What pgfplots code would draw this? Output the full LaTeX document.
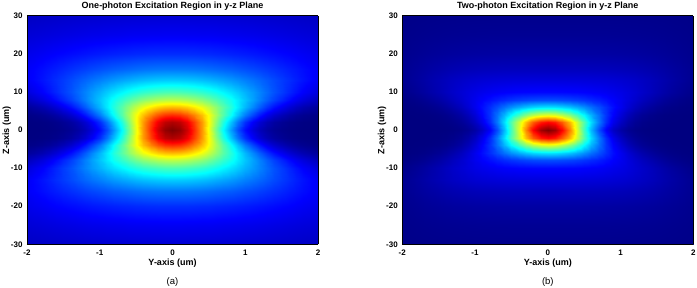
\documentclass[border=0pt]{standalone}
\usepackage{fontspec}
\setmainfont{Liberation Sans}
\usepackage{pgfplots}
\pgfplotsset{compat=1.18}
\newcommand\tickfont{\bfseries\fontsize{8bp}{9bp}\selectfont}
\newcommand\labfont{\bfseries\fontsize{9bp}{10bp}\selectfont}
\pgfplotsset{hm/.style={
  scale only axis, width=291bp, height=228.6bp,
  view={0}{90}, xmin=-2, xmax=2, ymin=-30, ymax=30, zmin=0, zmax=1,
  enlargelimits=false, axis on top,
  colormap/jet, point meta min=0, point meta max=1,
  xtick={-2,-1,0,1,2}, xticklabels={-2,-1,0,1,2},
  ytick={-30,-20,-10,0,10,20,30}, yticklabels={-30,-20,-10,0,10,20,30},
  ztick=\empty,
  major tick length=0pt,
  tick label style={font=\tickfont, inner sep=0pt},
  xticklabel style={anchor=base, yshift=-10.7bp},
  yticklabel style={anchor=east, xshift=-4.3bp},
  xlabel={Y-axis (um)}, ylabel={Z-axis (um)},
  label style={font=\labfont, inner sep=0pt},
  xlabel style={at={(axis description cs:0.5,-0.0906)}, anchor=base},
  ylabel style={at={(axis description cs:-0.0698,0.5)}, anchor=center},
  axis line style={black, line width=0.5pt},
}}
\begin{document}
\begin{tikzpicture}
\useasboundingbox (0,0) rectangle (697bp,-288bp);
\begin{axis}[hm, at={(27bp,-244.3bp)}, anchor=south west]
\addplot3[surf, shader=interp, mesh/rows=21, mesh/cols=41] coordinates {
(-2,-30,0.0665)(-1.9,-30,0.0679)(-1.8,-30,0.0693)(-1.7,-30,0.0706)(-1.6,-30,0.0719)(-1.5,-30,0.0731)(-1.4,-30,0.0743)(-1.3,-30,0.0754)(-1.2,-30,0.0764)(-1.1,-30,0.0774)(-1,-30,0.0782)(-0.9,-30,0.0791)(-0.8,-30,0.0798)(-0.7,-30,0.0804)(-0.6,-30,0.081)(-0.5,-30,0.0815)(-0.4,-30,0.0819)(-0.3,-30,0.0822)(-0.2,-30,0.0824)(-0.1,-30,0.0826)(0,-30,0.0826)(0.1,-30,0.0826)(0.2,-30,0.0824)(0.3,-30,0.0822)(0.4,-30,0.0819)(0.5,-30,0.0815)(0.6,-30,0.081)(0.7,-30,0.0804)(0.8,-30,0.0798)(0.9,-30,0.0791)(1,-30,0.0782)(1.1,-30,0.0774)(1.2,-30,0.0764)(1.3,-30,0.0754)(1.4,-30,0.0743)(1.5,-30,0.0731)(1.6,-30,0.0719)(1.7,-30,0.0706)(1.8,-30,0.0693)(1.9,-30,0.0679)(2,-30,0.0665)
(-2,-25,0.0843)(-1.9,-25,0.0869)(-1.8,-25,0.0894)(-1.7,-25,0.0918)(-1.6,-25,0.0942)(-1.5,-25,0.0965)(-1.4,-25,0.0987)(-1.3,-25,0.101)(-1.2,-25,0.103)(-1.1,-25,0.105)(-1,-25,0.106)(-0.9,-25,0.108)(-0.8,-25,0.109)(-0.7,-25,0.11)(-0.6,-25,0.112)(-0.5,-25,0.113)(-0.4,-25,0.113)(-0.3,-25,0.114)(-0.2,-25,0.114)(-0.1,-25,0.115)(0,-25,0.115)(0.1,-25,0.115)(0.2,-25,0.114)(0.3,-25,0.114)(0.4,-25,0.113)(0.5,-25,0.113)(0.6,-25,0.112)(0.7,-25,0.11)(0.8,-25,0.109)(0.9,-25,0.108)(1,-25,0.106)(1.1,-25,0.105)(1.2,-25,0.103)(1.3,-25,0.101)(1.4,-25,0.0987)(1.5,-25,0.0965)(1.6,-25,0.0942)(1.7,-25,0.0918)(1.8,-25,0.0894)(1.9,-25,0.0869)(2,-25,0.0843)
(-2,-20,0.105)(-1.9,-20,0.11)(-1.8,-20,0.115)(-1.7,-20,0.12)(-1.6,-20,0.125)(-1.5,-20,0.129)(-1.4,-20,0.134)(-1.3,-20,0.138)(-1.2,-20,0.142)(-1.1,-20,0.146)(-1,-20,0.15)(-0.9,-20,0.153)(-0.8,-20,0.156)(-0.7,-20,0.159)(-0.6,-20,0.161)(-0.5,-20,0.164)(-0.4,-20,0.165)(-0.3,-20,0.167)(-0.2,-20,0.168)(-0.1,-20,0.168)(0,-20,0.168)(0.1,-20,0.168)(0.2,-20,0.168)(0.3,-20,0.167)(0.4,-20,0.165)(0.5,-20,0.164)(0.6,-20,0.161)(0.7,-20,0.159)(0.8,-20,0.156)(0.9,-20,0.153)(1,-20,0.15)(1.1,-20,0.146)(1.2,-20,0.142)(1.3,-20,0.138)(1.4,-20,0.134)(1.5,-20,0.129)(1.6,-20,0.125)(1.7,-20,0.12)(1.8,-20,0.115)(1.9,-20,0.11)(2,-20,0.105)
(-2,-16,0.118)(-1.9,-16,0.126)(-1.8,-16,0.135)(-1.7,-16,0.144)(-1.6,-16,0.152)(-1.5,-16,0.161)(-1.4,-16,0.17)(-1.3,-16,0.178)(-1.2,-16,0.186)(-1.1,-16,0.194)(-1,-16,0.201)(-0.9,-16,0.208)(-0.8,-16,0.215)(-0.7,-16,0.22)(-0.6,-16,0.225)(-0.5,-16,0.23)(-0.4,-16,0.234)(-0.3,-16,0.237)(-0.2,-16,0.239)(-0.1,-16,0.24)(0,-16,0.24)(0.1,-16,0.24)(0.2,-16,0.239)(0.3,-16,0.237)(0.4,-16,0.234)(0.5,-16,0.23)(0.6,-16,0.225)(0.7,-16,0.22)(0.8,-16,0.215)(0.9,-16,0.208)(1,-16,0.201)(1.1,-16,0.194)(1.2,-16,0.186)(1.3,-16,0.178)(1.4,-16,0.17)(1.5,-16,0.161)(1.6,-16,0.152)(1.7,-16,0.144)(1.8,-16,0.135)(1.9,-16,0.126)(2,-16,0.118)
(-2,-13,0.116)(-1.9,-13,0.128)(-1.8,-13,0.141)(-1.7,-13,0.154)(-1.6,-13,0.168)(-1.5,-13,0.181)(-1.4,-13,0.196)(-1.3,-13,0.21)(-1.2,-13,0.224)(-1.1,-13,0.237)(-1,-13,0.25)(-0.9,-13,0.263)(-0.8,-13,0.275)(-0.7,-13,0.286)(-0.6,-13,0.295)(-0.5,-13,0.304)(-0.4,-13,0.311)(-0.3,-13,0.317)(-0.2,-13,0.321)(-0.1,-13,0.323)(0,-13,0.324)(0.1,-13,0.323)(0.2,-13,0.321)(0.3,-13,0.317)(0.4,-13,0.311)(0.5,-13,0.304)(0.6,-13,0.295)(0.7,-13,0.286)(0.8,-13,0.275)(0.9,-13,0.263)(1,-13,0.25)(1.1,-13,0.237)(1.2,-13,0.224)(1.3,-13,0.21)(1.4,-13,0.196)(1.5,-13,0.181)(1.6,-13,0.168)(1.7,-13,0.154)(1.8,-13,0.141)(1.9,-13,0.128)(2,-13,0.116)
(-2,-10,0.0903)(-1.9,-10,0.106)(-1.8,-10,0.122)(-1.7,-10,0.141)(-1.6,-10,0.161)(-1.5,-10,0.182)(-1.4,-10,0.204)(-1.3,-10,0.228)(-1.2,-10,0.252)(-1.1,-10,0.276)(-1,-10,0.3)(-0.9,-10,0.324)(-0.8,-10,0.346)(-0.7,-10,0.368)(-0.6,-10,0.388)(-0.5,-10,0.405)(-0.4,-10,0.42)(-0.3,-10,0.432)(-0.2,-10,0.44)(-0.1,-10,0.446)(0,-10,0.448)(0.1,-10,0.446)(0.2,-10,0.44)(0.3,-10,0.432)(0.4,-10,0.42)(0.5,-10,0.405)(0.6,-10,0.388)(0.7,-10,0.368)(0.8,-10,0.346)(0.9,-10,0.324)(1,-10,0.3)(1.1,-10,0.276)(1.2,-10,0.252)(1.3,-10,0.228)(1.4,-10,0.204)(1.5,-10,0.182)(1.6,-10,0.161)(1.7,-10,0.141)(1.8,-10,0.122)(1.9,-10,0.106)(2,-10,0.0903)
(-2,-8,0.059)(-1.9,-8,0.0735)(-1.8,-8,0.0905)(-1.7,-8,0.11)(-1.6,-8,0.133)(-1.5,-8,0.158)(-1.4,-8,0.186)(-1.3,-8,0.216)(-1.2,-8,0.249)(-1.1,-8,0.283)(-1,-8,0.319)(-0.9,-8,0.354)(-0.8,-8,0.39)(-0.7,-8,0.424)(-0.6,-8,0.456)(-0.5,-8,0.485)(-0.4,-8,0.511)(-0.3,-8,0.531)(-0.2,-8,0.546)(-0.1,-8,0.555)(0,-8,0.559)(0.1,-8,0.555)(0.2,-8,0.546)(0.3,-8,0.531)(0.4,-8,0.511)(0.5,-8,0.485)(0.6,-8,0.456)(0.7,-8,0.424)(0.8,-8,0.39)(0.9,-8,0.354)(1,-8,0.319)(1.1,-8,0.283)(1.2,-8,0.249)(1.3,-8,0.216)(1.4,-8,0.186)(1.5,-8,0.158)(1.6,-8,0.133)(1.7,-8,0.11)(1.8,-8,0.0905)(1.9,-8,0.0735)(2,-8,0.059)
(-2,-6,0.0261)(-1.9,-6,0.0359)(-1.8,-6,0.0486)(-1.7,-6,0.0648)(-1.6,-6,0.0849)(-1.5,-6,0.109)(-1.4,-6,0.139)(-1.3,-6,0.173)(-1.2,-6,0.213)(-1.1,-6,0.257)(-1,-6,0.305)(-0.9,-6,0.356)(-0.8,-6,0.41)(-0.7,-6,0.463)(-0.6,-6,0.515)(-0.5,-6,0.564)(-0.4,-6,0.607)(-0.3,-6,0.643)(-0.2,-6,0.67)(-0.1,-6,0.686)(0,-6,0.692)(0.1,-6,0.686)(0.2,-6,0.67)(0.3,-6,0.643)(0.4,-6,0.607)(0.5,-6,0.564)(0.6,-6,0.515)(0.7,-6,0.463)(0.8,-6,0.41)(0.9,-6,0.356)(1,-6,0.305)(1.1,-6,0.257)(1.2,-6,0.213)(1.3,-6,0.173)(1.4,-6,0.139)(1.5,-6,0.109)(1.6,-6,0.0849)(1.7,-6,0.0648)(1.8,-6,0.0486)(1.9,-6,0.0359)(2,-6,0.0261)
(-2,-4,0.0064)(-1.9,-4,0.0102)(-1.8,-4,0.0161)(-1.7,-4,0.0246)(-1.6,-4,0.0368)(-1.5,-4,0.0537)(-1.4,-4,0.0765)(-1.3,-4,0.106)(-1.2,-4,0.144)(-1.1,-4,0.191)(-1,-4,0.247)(-0.9,-4,0.311)(-0.8,-4,0.383)(-0.7,-4,0.459)(-0.6,-4,0.538)(-0.5,-4,0.616)(-0.4,-4,0.687)(-0.3,-4,0.748)(-0.2,-4,0.795)(-0.1,-4,0.825)(0,-4,0.835)(0.1,-4,0.825)(0.2,-4,0.795)(0.3,-4,0.748)(0.4,-4,0.687)(0.5,-4,0.616)(0.6,-4,0.538)(0.7,-4,0.459)(0.8,-4,0.383)(0.9,-4,0.311)(1,-4,0.247)(1.1,-4,0.191)(1.2,-4,0.144)(1.3,-4,0.106)(1.4,-4,0.0765)(1.5,-4,0.0537)(1.6,-4,0.0368)(1.7,-4,0.0246)(1.8,-4,0.0161)(1.9,-4,0.0102)(2,-4,0.0064)
(-2,-2,0.001)(-1.9,-2,0.0019)(-1.8,-2,0.0036)(-1.7,-2,0.0065)(-1.6,-2,0.0116)(-1.5,-2,0.0197)(-1.4,-2,0.0325)(-1.3,-2,0.0518)(-1.2,-2,0.0796)(-1.1,-2,0.118)(-1,-2,0.17)(-0.9,-2,0.236)(-0.8,-2,0.316)(-0.7,-2,0.409)(-0.6,-2,0.512)(-0.5,-2,0.619)(-0.4,-2,0.723)(-0.3,-2,0.816)(-0.2,-2,0.89)(-0.1,-2,0.937)(0,-2,0.953)(0.1,-2,0.937)(0.2,-2,0.89)(0.3,-2,0.816)(0.4,-2,0.723)(0.5,-2,0.619)(0.6,-2,0.512)(0.7,-2,0.409)(0.8,-2,0.316)(0.9,-2,0.236)(1,-2,0.17)(1.1,-2,0.118)(1.2,-2,0.0796)(1.3,-2,0.0518)(1.4,-2,0.0325)(1.5,-2,0.0197)(1.6,-2,0.0116)(1.7,-2,0.0065)(1.8,-2,0.0036)(1.9,-2,0.0019)(2,-2,0.001)
(-2,0,0.0003)(-1.9,0,0.0007)(-1.8,0,0.0015)(-1.7,0,0.0031)(-1.6,0,0.006)(-1.5,0,0.0111)(-1.4,0,0.0198)(-1.3,0,0.034)(-1.2,0,0.0561)(-1.1,0,0.0889)(-1,0,0.135)(-0.9,0,0.198)(-0.8,0,0.278)(-0.7,0,0.375)(-0.6,0,0.487)(-0.5,0,0.607)(-0.4,0,0.726)(-0.3,0,0.835)(-0.2,0,0.923)(-0.1,0,0.98)(0,0,1)(0.1,0,0.98)(0.2,0,0.923)(0.3,0,0.835)(0.4,0,0.726)(0.5,0,0.607)(0.6,0,0.487)(0.7,0,0.375)(0.8,0,0.278)(0.9,0,0.198)(1,0,0.135)(1.1,0,0.0889)(1.2,0,0.0561)(1.3,0,0.034)(1.4,0,0.0198)(1.5,0,0.0111)(1.6,0,0.006)(1.7,0,0.0031)(1.8,0,0.0015)(1.9,0,0.0007)(2,0,0.0003)
(-2,2,0.001)(-1.9,2,0.0019)(-1.8,2,0.0036)(-1.7,2,0.0065)(-1.6,2,0.0116)(-1.5,2,0.0197)(-1.4,2,0.0325)(-1.3,2,0.0518)(-1.2,2,0.0796)(-1.1,2,0.118)(-1,2,0.17)(-0.9,2,0.236)(-0.8,2,0.316)(-0.7,2,0.409)(-0.6,2,0.512)(-0.5,2,0.619)(-0.4,2,0.723)(-0.3,2,0.816)(-0.2,2,0.89)(-0.1,2,0.937)(0,2,0.953)(0.1,2,0.937)(0.2,2,0.89)(0.3,2,0.816)(0.4,2,0.723)(0.5,2,0.619)(0.6,2,0.512)(0.7,2,0.409)(0.8,2,0.316)(0.9,2,0.236)(1,2,0.17)(1.1,2,0.118)(1.2,2,0.0796)(1.3,2,0.0518)(1.4,2,0.0325)(1.5,2,0.0197)(1.6,2,0.0116)(1.7,2,0.0065)(1.8,2,0.0036)(1.9,2,0.0019)(2,2,0.001)
(-2,4,0.0064)(-1.9,4,0.0102)(-1.8,4,0.0161)(-1.7,4,0.0246)(-1.6,4,0.0368)(-1.5,4,0.0537)(-1.4,4,0.0765)(-1.3,4,0.106)(-1.2,4,0.144)(-1.1,4,0.191)(-1,4,0.247)(-0.9,4,0.311)(-0.8,4,0.383)(-0.7,4,0.459)(-0.6,4,0.538)(-0.5,4,0.616)(-0.4,4,0.687)(-0.3,4,0.748)(-0.2,4,0.795)(-0.1,4,0.825)(0,4,0.835)(0.1,4,0.825)(0.2,4,0.795)(0.3,4,0.748)(0.4,4,0.687)(0.5,4,0.616)(0.6,4,0.538)(0.7,4,0.459)(0.8,4,0.383)(0.9,4,0.311)(1,4,0.247)(1.1,4,0.191)(1.2,4,0.144)(1.3,4,0.106)(1.4,4,0.0765)(1.5,4,0.0537)(1.6,4,0.0368)(1.7,4,0.0246)(1.8,4,0.0161)(1.9,4,0.0102)(2,4,0.0064)
(-2,6,0.0261)(-1.9,6,0.0359)(-1.8,6,0.0486)(-1.7,6,0.0648)(-1.6,6,0.0849)(-1.5,6,0.109)(-1.4,6,0.139)(-1.3,6,0.173)(-1.2,6,0.213)(-1.1,6,0.257)(-1,6,0.305)(-0.9,6,0.356)(-0.8,6,0.41)(-0.7,6,0.463)(-0.6,6,0.515)(-0.5,6,0.564)(-0.4,6,0.607)(-0.3,6,0.643)(-0.2,6,0.67)(-0.1,6,0.686)(0,6,0.692)(0.1,6,0.686)(0.2,6,0.67)(0.3,6,0.643)(0.4,6,0.607)(0.5,6,0.564)(0.6,6,0.515)(0.7,6,0.463)(0.8,6,0.41)(0.9,6,0.356)(1,6,0.305)(1.1,6,0.257)(1.2,6,0.213)(1.3,6,0.173)(1.4,6,0.139)(1.5,6,0.109)(1.6,6,0.0849)(1.7,6,0.0648)(1.8,6,0.0486)(1.9,6,0.0359)(2,6,0.0261)
(-2,8,0.059)(-1.9,8,0.0735)(-1.8,8,0.0905)(-1.7,8,0.11)(-1.6,8,0.133)(-1.5,8,0.158)(-1.4,8,0.186)(-1.3,8,0.216)(-1.2,8,0.249)(-1.1,8,0.283)(-1,8,0.319)(-0.9,8,0.354)(-0.8,8,0.39)(-0.7,8,0.424)(-0.6,8,0.456)(-0.5,8,0.485)(-0.4,8,0.511)(-0.3,8,0.531)(-0.2,8,0.546)(-0.1,8,0.555)(0,8,0.559)(0.1,8,0.555)(0.2,8,0.546)(0.3,8,0.531)(0.4,8,0.511)(0.5,8,0.485)(0.6,8,0.456)(0.7,8,0.424)(0.8,8,0.39)(0.9,8,0.354)(1,8,0.319)(1.1,8,0.283)(1.2,8,0.249)(1.3,8,0.216)(1.4,8,0.186)(1.5,8,0.158)(1.6,8,0.133)(1.7,8,0.11)(1.8,8,0.0905)(1.9,8,0.0735)(2,8,0.059)
(-2,10,0.0903)(-1.9,10,0.106)(-1.8,10,0.122)(-1.7,10,0.141)(-1.6,10,0.161)(-1.5,10,0.182)(-1.4,10,0.204)(-1.3,10,0.228)(-1.2,10,0.252)(-1.1,10,0.276)(-1,10,0.3)(-0.9,10,0.324)(-0.8,10,0.346)(-0.7,10,0.368)(-0.6,10,0.388)(-0.5,10,0.405)(-0.4,10,0.42)(-0.3,10,0.432)(-0.2,10,0.44)(-0.1,10,0.446)(0,10,0.448)(0.1,10,0.446)(0.2,10,0.44)(0.3,10,0.432)(0.4,10,0.42)(0.5,10,0.405)(0.6,10,0.388)(0.7,10,0.368)(0.8,10,0.346)(0.9,10,0.324)(1,10,0.3)(1.1,10,0.276)(1.2,10,0.252)(1.3,10,0.228)(1.4,10,0.204)(1.5,10,0.182)(1.6,10,0.161)(1.7,10,0.141)(1.8,10,0.122)(1.9,10,0.106)(2,10,0.0903)
(-2,13,0.116)(-1.9,13,0.128)(-1.8,13,0.141)(-1.7,13,0.154)(-1.6,13,0.168)(-1.5,13,0.181)(-1.4,13,0.196)(-1.3,13,0.21)(-1.2,13,0.224)(-1.1,13,0.237)(-1,13,0.25)(-0.9,13,0.263)(-0.8,13,0.275)(-0.7,13,0.286)(-0.6,13,0.295)(-0.5,13,0.304)(-0.4,13,0.311)(-0.3,13,0.317)(-0.2,13,0.321)(-0.1,13,0.323)(0,13,0.324)(0.1,13,0.323)(0.2,13,0.321)(0.3,13,0.317)(0.4,13,0.311)(0.5,13,0.304)(0.6,13,0.295)(0.7,13,0.286)(0.8,13,0.275)(0.9,13,0.263)(1,13,0.25)(1.1,13,0.237)(1.2,13,0.224)(1.3,13,0.21)(1.4,13,0.196)(1.5,13,0.181)(1.6,13,0.168)(1.7,13,0.154)(1.8,13,0.141)(1.9,13,0.128)(2,13,0.116)
(-2,16,0.118)(-1.9,16,0.126)(-1.8,16,0.135)(-1.7,16,0.144)(-1.6,16,0.152)(-1.5,16,0.161)(-1.4,16,0.17)(-1.3,16,0.178)(-1.2,16,0.186)(-1.1,16,0.194)(-1,16,0.201)(-0.9,16,0.208)(-0.8,16,0.215)(-0.7,16,0.22)(-0.6,16,0.225)(-0.5,16,0.23)(-0.4,16,0.234)(-0.3,16,0.237)(-0.2,16,0.239)(-0.1,16,0.24)(0,16,0.24)(0.1,16,0.24)(0.2,16,0.239)(0.3,16,0.237)(0.4,16,0.234)(0.5,16,0.23)(0.6,16,0.225)(0.7,16,0.22)(0.8,16,0.215)(0.9,16,0.208)(1,16,0.201)(1.1,16,0.194)(1.2,16,0.186)(1.3,16,0.178)(1.4,16,0.17)(1.5,16,0.161)(1.6,16,0.152)(1.7,16,0.144)(1.8,16,0.135)(1.9,16,0.126)(2,16,0.118)
(-2,20,0.105)(-1.9,20,0.11)(-1.8,20,0.115)(-1.7,20,0.12)(-1.6,20,0.125)(-1.5,20,0.129)(-1.4,20,0.134)(-1.3,20,0.138)(-1.2,20,0.142)(-1.1,20,0.146)(-1,20,0.15)(-0.9,20,0.153)(-0.8,20,0.156)(-0.7,20,0.159)(-0.6,20,0.161)(-0.5,20,0.164)(-0.4,20,0.165)(-0.3,20,0.167)(-0.2,20,0.168)(-0.1,20,0.168)(0,20,0.168)(0.1,20,0.168)(0.2,20,0.168)(0.3,20,0.167)(0.4,20,0.165)(0.5,20,0.164)(0.6,20,0.161)(0.7,20,0.159)(0.8,20,0.156)(0.9,20,0.153)(1,20,0.15)(1.1,20,0.146)(1.2,20,0.142)(1.3,20,0.138)(1.4,20,0.134)(1.5,20,0.129)(1.6,20,0.125)(1.7,20,0.12)(1.8,20,0.115)(1.9,20,0.11)(2,20,0.105)
(-2,25,0.0843)(-1.9,25,0.0869)(-1.8,25,0.0894)(-1.7,25,0.0918)(-1.6,25,0.0942)(-1.5,25,0.0965)(-1.4,25,0.0987)(-1.3,25,0.101)(-1.2,25,0.103)(-1.1,25,0.105)(-1,25,0.106)(-0.9,25,0.108)(-0.8,25,0.109)(-0.7,25,0.11)(-0.6,25,0.112)(-0.5,25,0.113)(-0.4,25,0.113)(-0.3,25,0.114)(-0.2,25,0.114)(-0.1,25,0.115)(0,25,0.115)(0.1,25,0.115)(0.2,25,0.114)(0.3,25,0.114)(0.4,25,0.113)(0.5,25,0.113)(0.6,25,0.112)(0.7,25,0.11)(0.8,25,0.109)(0.9,25,0.108)(1,25,0.106)(1.1,25,0.105)(1.2,25,0.103)(1.3,25,0.101)(1.4,25,0.0987)(1.5,25,0.0965)(1.6,25,0.0942)(1.7,25,0.0918)(1.8,25,0.0894)(1.9,25,0.0869)(2,25,0.0843)
(-2,30,0.0665)(-1.9,30,0.0679)(-1.8,30,0.0693)(-1.7,30,0.0706)(-1.6,30,0.0719)(-1.5,30,0.0731)(-1.4,30,0.0743)(-1.3,30,0.0754)(-1.2,30,0.0764)(-1.1,30,0.0774)(-1,30,0.0782)(-0.9,30,0.0791)(-0.8,30,0.0798)(-0.7,30,0.0804)(-0.6,30,0.081)(-0.5,30,0.0815)(-0.4,30,0.0819)(-0.3,30,0.0822)(-0.2,30,0.0824)(-0.1,30,0.0826)(0,30,0.0826)(0.1,30,0.0826)(0.2,30,0.0824)(0.3,30,0.0822)(0.4,30,0.0819)(0.5,30,0.0815)(0.6,30,0.081)(0.7,30,0.0804)(0.8,30,0.0798)(0.9,30,0.0791)(1,30,0.0782)(1.1,30,0.0774)(1.2,30,0.0764)(1.3,30,0.0754)(1.4,30,0.0743)(1.5,30,0.0731)(1.6,30,0.0719)(1.7,30,0.0706)(1.8,30,0.0693)(1.9,30,0.0679)(2,30,0.0665)
};
\end{axis}
\begin{axis}[hm, at={(402.3bp,-244.3bp)}, anchor=south west]
\addplot3[surf, shader=interp, mesh/rows=21, mesh/cols=41] coordinates {
(-2,-30,0.008)(-1.9,-30,0.0088)(-1.8,-30,0.0095)(-1.7,-30,0.0101)(-1.6,-30,0.0107)(-1.5,-30,0.0112)(-1.4,-30,0.0116)(-1.3,-30,0.0119)(-1.2,-30,0.0122)(-1.1,-30,0.0124)(-1,-30,0.0126)(-0.9,-30,0.0127)(-0.8,-30,0.0128)(-0.7,-30,0.0129)(-0.6,-30,0.013)(-0.5,-30,0.013)(-0.4,-30,0.013)(-0.3,-30,0.013)(-0.2,-30,0.013)(-0.1,-30,0.013)(0,-30,0.013)(0.1,-30,0.013)(0.2,-30,0.013)(0.3,-30,0.013)(0.4,-30,0.013)(0.5,-30,0.013)(0.6,-30,0.013)(0.7,-30,0.0129)(0.8,-30,0.0128)(0.9,-30,0.0127)(1,-30,0.0126)(1.1,-30,0.0124)(1.2,-30,0.0122)(1.3,-30,0.0119)(1.4,-30,0.0116)(1.5,-30,0.0112)(1.6,-30,0.0107)(1.7,-30,0.0101)(1.8,-30,0.0095)(1.9,-30,0.0088)(2,-30,0.008)
(-2,-25,0.0105)(-1.9,-25,0.0119)(-1.8,-25,0.0131)(-1.7,-25,0.0143)(-1.6,-25,0.0154)(-1.5,-25,0.0163)(-1.4,-25,0.0172)(-1.3,-25,0.0178)(-1.2,-25,0.0184)(-1.1,-25,0.0189)(-1,-25,0.0192)(-0.9,-25,0.0195)(-0.8,-25,0.0197)(-0.7,-25,0.0198)(-0.6,-25,0.0199)(-0.5,-25,0.02)(-0.4,-25,0.02)(-0.3,-25,0.02)(-0.2,-25,0.02)(-0.1,-25,0.02)(0,-25,0.02)(0.1,-25,0.02)(0.2,-25,0.02)(0.3,-25,0.02)(0.4,-25,0.02)(0.5,-25,0.02)(0.6,-25,0.0199)(0.7,-25,0.0198)(0.8,-25,0.0197)(0.9,-25,0.0195)(1,-25,0.0192)(1.1,-25,0.0189)(1.2,-25,0.0184)(1.3,-25,0.0178)(1.4,-25,0.0172)(1.5,-25,0.0163)(1.6,-25,0.0154)(1.7,-25,0.0143)(1.8,-25,0.0131)(1.9,-25,0.0119)(2,-25,0.0105)
(-2,-20,0.0134)(-1.9,-20,0.016)(-1.8,-20,0.0186)(-1.7,-20,0.0212)(-1.6,-20,0.0236)(-1.5,-20,0.0258)(-1.4,-20,0.0278)(-1.3,-20,0.0295)(-1.2,-20,0.0309)(-1.1,-20,0.0321)(-1,-20,0.033)(-0.9,-20,0.0336)(-0.8,-20,0.0341)(-0.7,-20,0.0345)(-0.6,-20,0.0347)(-0.5,-20,0.0349)(-0.4,-20,0.035)(-0.3,-20,0.035)(-0.2,-20,0.035)(-0.1,-20,0.035)(0,-20,0.035)(0.1,-20,0.035)(0.2,-20,0.035)(0.3,-20,0.035)(0.4,-20,0.035)(0.5,-20,0.0349)(0.6,-20,0.0347)(0.7,-20,0.0345)(0.8,-20,0.0341)(0.9,-20,0.0336)(1,-20,0.033)(1.1,-20,0.0321)(1.2,-20,0.0309)(1.3,-20,0.0295)(1.4,-20,0.0278)(1.5,-20,0.0258)(1.6,-20,0.0236)(1.7,-20,0.0212)(1.8,-20,0.0186)(1.9,-20,0.016)(2,-20,0.0134)
(-2,-16,0.0167)(-1.9,-16,0.0211)(-1.8,-16,0.0259)(-1.7,-16,0.0308)(-1.6,-16,0.0355)(-1.5,-16,0.04)(-1.4,-16,0.0441)(-1.3,-16,0.0477)(-1.2,-16,0.0508)(-1.1,-16,0.0534)(-1,-16,0.0554)(-0.9,-16,0.0569)(-0.8,-16,0.0581)(-0.7,-16,0.0589)(-0.6,-16,0.0594)(-0.5,-16,0.0597)(-0.4,-16,0.0599)(-0.3,-16,0.06)(-0.2,-16,0.06)(-0.1,-16,0.06)(0,-16,0.06)(0.1,-16,0.06)(0.2,-16,0.06)(0.3,-16,0.06)(0.4,-16,0.0599)(0.5,-16,0.0597)(0.6,-16,0.0594)(0.7,-16,0.0589)(0.8,-16,0.0581)(0.9,-16,0.0569)(1,-16,0.0554)(1.1,-16,0.0534)(1.2,-16,0.0508)(1.3,-16,0.0477)(1.4,-16,0.0441)(1.5,-16,0.04)(1.6,-16,0.0355)(1.7,-16,0.0308)(1.8,-16,0.0259)(1.9,-16,0.0211)(2,-16,0.0167)
(-2,-13,0.0168)(-1.9,-13,0.0227)(-1.8,-13,0.0295)(-1.7,-13,0.0369)(-1.6,-13,0.0444)(-1.5,-13,0.0518)(-1.4,-13,0.0589)(-1.3,-13,0.0654)(-1.2,-13,0.0711)(-1.1,-13,0.0759)(-1,-13,0.0798)(-0.9,-13,0.0829)(-0.8,-13,0.0853)(-0.7,-13,0.087)(-0.6,-13,0.0882)(-0.5,-13,0.089)(-0.4,-13,0.0895)(-0.3,-13,0.0898)(-0.2,-13,0.0899)(-0.1,-13,0.09)(0,-13,0.09)(0.1,-13,0.09)(0.2,-13,0.0899)(0.3,-13,0.0898)(0.4,-13,0.0895)(0.5,-13,0.089)(0.6,-13,0.0882)(0.7,-13,0.087)(0.8,-13,0.0853)(0.9,-13,0.0829)(1,-13,0.0798)(1.1,-13,0.0759)(1.2,-13,0.0711)(1.3,-13,0.0654)(1.4,-13,0.0589)(1.5,-13,0.0518)(1.6,-13,0.0444)(1.7,-13,0.0369)(1.8,-13,0.0295)(1.9,-13,0.0227)(2,-13,0.0168)
(-2,-10,0.0105)(-1.9,-10,0.0158)(-1.8,-10,0.0227)(-1.7,-10,0.0309)(-1.6,-10,0.0403)(-1.5,-10,0.0505)(-1.4,-10,0.0611)(-1.3,-10,0.0716)(-1.2,-10,0.0817)(-1.1,-10,0.0909)(-1,-10,0.0992)(-0.9,-10,0.106)(-0.8,-10,0.112)(-0.7,-10,0.117)(-0.6,-10,0.121)(-0.5,-10,0.124)(-0.4,-10,0.127)(-0.3,-10,0.128)(-0.2,-10,0.129)(-0.1,-10,0.13)(0,-10,0.13)(0.1,-10,0.13)(0.2,-10,0.129)(0.3,-10,0.128)(0.4,-10,0.127)(0.5,-10,0.124)(0.6,-10,0.121)(0.7,-10,0.117)(0.8,-10,0.112)(0.9,-10,0.106)(1,-10,0.0992)(1.1,-10,0.0909)(1.2,-10,0.0817)(1.3,-10,0.0716)(1.4,-10,0.0611)(1.5,-10,0.0505)(1.6,-10,0.0403)(1.7,-10,0.0309)(1.8,-10,0.0227)(1.9,-10,0.0158)(2,-10,0.0105)
(-2,-8,0.004)(-1.9,-8,0.0069)(-1.8,-8,0.0112)(-1.7,-8,0.0173)(-1.6,-8,0.0253)(-1.5,-8,0.0354)(-1.4,-8,0.0473)(-1.3,-8,0.061)(-1.2,-8,0.0759)(-1.1,-8,0.0916)(-1,-8,0.108)(-0.9,-8,0.123)(-0.8,-8,0.138)(-0.7,-8,0.152)(-0.6,-8,0.164)(-0.5,-8,0.175)(-0.4,-8,0.184)(-0.3,-8,0.191)(-0.2,-8,0.196)(-0.1,-8,0.199)(0,-8,0.2)(0.1,-8,0.199)(0.2,-8,0.196)(0.3,-8,0.191)(0.4,-8,0.184)(0.5,-8,0.175)(0.6,-8,0.164)(0.7,-8,0.152)(0.8,-8,0.138)(0.9,-8,0.123)(1,-8,0.108)(1.1,-8,0.0916)(1.2,-8,0.0759)(1.3,-8,0.061)(1.4,-8,0.0473)(1.5,-8,0.0354)(1.6,-8,0.0253)(1.7,-8,0.0173)(1.8,-8,0.0112)(1.9,-8,0.0069)(2,-8,0.004)
(-2,-6,0.0012)(-1.9,-6,0.0023)(-1.8,-6,0.0043)(-1.7,-6,0.0075)(-1.6,-6,0.0124)(-1.5,-6,0.0197)(-1.4,-6,0.0298)(-1.3,-6,0.0434)(-1.2,-6,0.0608)(-1.1,-6,0.0823)(-1,-6,0.108)(-0.9,-6,0.136)(-0.8,-6,0.168)(-0.7,-6,0.2)(-0.6,-6,0.233)(-0.5,-6,0.265)(-0.4,-6,0.293)(-0.3,-6,0.317)(-0.2,-6,0.335)(-0.1,-6,0.346)(0,-6,0.35)(0.1,-6,0.346)(0.2,-6,0.335)(0.3,-6,0.317)(0.4,-6,0.293)(0.5,-6,0.265)(0.6,-6,0.233)(0.7,-6,0.2)(0.8,-6,0.168)(0.9,-6,0.136)(1,-6,0.108)(1.1,-6,0.0823)(1.2,-6,0.0608)(1.3,-6,0.0434)(1.4,-6,0.0298)(1.5,-6,0.0197)(1.6,-6,0.0124)(1.7,-6,0.0075)(1.8,-6,0.0043)(1.9,-6,0.0023)(2,-6,0.0012)
(-2,-4,0.0001)(-1.9,-4,0.0003)(-1.8,-4,0.0008)(-1.7,-4,0.0016)(-1.6,-4,0.0033)(-1.5,-4,0.0065)(-1.4,-4,0.012)(-1.3,-4,0.021)(-1.2,-4,0.0351)(-1.1,-4,0.056)(-1,-4,0.0854)(-0.9,-4,0.125)(-0.8,-4,0.174)(-0.7,-4,0.234)(-0.6,-4,0.301)(-0.5,-4,0.372)(-0.4,-4,0.442)(-0.3,-4,0.506)(-0.2,-4,0.556)(-0.1,-4,0.589)(0,-4,0.6)(0.1,-4,0.589)(0.2,-4,0.556)(0.3,-4,0.506)(0.4,-4,0.442)(0.5,-4,0.372)(0.6,-4,0.301)(0.7,-4,0.234)(0.8,-4,0.174)(0.9,-4,0.125)(1,-4,0.0854)(1.1,-4,0.056)(1.2,-4,0.0351)(1.3,-4,0.021)(1.4,-4,0.012)(1.5,-4,0.0065)(1.6,-4,0.0033)(1.7,-4,0.0016)(1.8,-4,0.0008)(1.9,-4,0.0003)(2,-4,0.0001)
(-2,-2,0)(-1.9,-2,0.0001)(-1.8,-2,0.0002)(-1.7,-2,0.0005)(-1.6,-2,0.0011)(-1.5,-2,0.0025)(-1.4,-2,0.0053)(-1.3,-2,0.0107)(-1.2,-2,0.0206)(-1.1,-2,0.0374)(-1,-2,0.0646)(-0.9,-2,0.106)(-0.8,-2,0.165)(-0.7,-2,0.243)(-0.6,-2,0.341)(-0.5,-2,0.454)(-0.4,-2,0.574)(-0.3,-2,0.689)(-0.2,-2,0.784)(-0.1,-2,0.848)(0,-2,0.87)(0.1,-2,0.848)(0.2,-2,0.784)(0.3,-2,0.689)(0.4,-2,0.574)(0.5,-2,0.454)(0.6,-2,0.341)(0.7,-2,0.243)(0.8,-2,0.165)(0.9,-2,0.106)(1,-2,0.0646)(1.1,-2,0.0374)(1.2,-2,0.0206)(1.3,-2,0.0107)(1.4,-2,0.0053)(1.5,-2,0.0025)(1.6,-2,0.0011)(1.7,-2,0.0005)(1.8,-2,0.0002)(1.9,-2,0.0001)(2,-2,0)
(-2,0,0)(-1.9,0,0)(-1.8,0,0)(-1.7,0,0.0001)(-1.6,0,0.0002)(-1.5,0,0.0006)(-1.4,0,0.0016)(-1.3,0,0.0038)(-1.2,0,0.0086)(-1.1,0,0.0184)(-1,0,0.037)(-0.9,0,0.069)(-0.8,0,0.121)(-0.7,0,0.198)(-0.6,0,0.305)(-0.5,0,0.438)(-0.4,0,0.59)(-0.3,0,0.743)(-0.2,0,0.876)(-0.1,0,0.968)(0,0,1)(0.1,0,0.968)(0.2,0,0.876)(0.3,0,0.743)(0.4,0,0.59)(0.5,0,0.438)(0.6,0,0.305)(0.7,0,0.198)(0.8,0,0.121)(0.9,0,0.069)(1,0,0.037)(1.1,0,0.0184)(1.2,0,0.0086)(1.3,0,0.0038)(1.4,0,0.0016)(1.5,0,0.0006)(1.6,0,0.0002)(1.7,0,0.0001)(1.8,0,0)(1.9,0,0)(2,0,0)
(-2,2,0)(-1.9,2,0.0001)(-1.8,2,0.0002)(-1.7,2,0.0005)(-1.6,2,0.0011)(-1.5,2,0.0025)(-1.4,2,0.0053)(-1.3,2,0.0107)(-1.2,2,0.0206)(-1.1,2,0.0374)(-1,2,0.0646)(-0.9,2,0.106)(-0.8,2,0.165)(-0.7,2,0.243)(-0.6,2,0.341)(-0.5,2,0.454)(-0.4,2,0.574)(-0.3,2,0.689)(-0.2,2,0.784)(-0.1,2,0.848)(0,2,0.87)(0.1,2,0.848)(0.2,2,0.784)(0.3,2,0.689)(0.4,2,0.574)(0.5,2,0.454)(0.6,2,0.341)(0.7,2,0.243)(0.8,2,0.165)(0.9,2,0.106)(1,2,0.0646)(1.1,2,0.0374)(1.2,2,0.0206)(1.3,2,0.0107)(1.4,2,0.0053)(1.5,2,0.0025)(1.6,2,0.0011)(1.7,2,0.0005)(1.8,2,0.0002)(1.9,2,0.0001)(2,2,0)
(-2,4,0.0001)(-1.9,4,0.0003)(-1.8,4,0.0008)(-1.7,4,0.0016)(-1.6,4,0.0033)(-1.5,4,0.0065)(-1.4,4,0.012)(-1.3,4,0.021)(-1.2,4,0.0351)(-1.1,4,0.056)(-1,4,0.0854)(-0.9,4,0.125)(-0.8,4,0.174)(-0.7,4,0.234)(-0.6,4,0.301)(-0.5,4,0.372)(-0.4,4,0.442)(-0.3,4,0.506)(-0.2,4,0.556)(-0.1,4,0.589)(0,4,0.6)(0.1,4,0.589)(0.2,4,0.556)(0.3,4,0.506)(0.4,4,0.442)(0.5,4,0.372)(0.6,4,0.301)(0.7,4,0.234)(0.8,4,0.174)(0.9,4,0.125)(1,4,0.0854)(1.1,4,0.056)(1.2,4,0.0351)(1.3,4,0.021)(1.4,4,0.012)(1.5,4,0.0065)(1.6,4,0.0033)(1.7,4,0.0016)(1.8,4,0.0008)(1.9,4,0.0003)(2,4,0.0001)
(-2,6,0.0012)(-1.9,6,0.0023)(-1.8,6,0.0043)(-1.7,6,0.0075)(-1.6,6,0.0124)(-1.5,6,0.0197)(-1.4,6,0.0298)(-1.3,6,0.0434)(-1.2,6,0.0608)(-1.1,6,0.0823)(-1,6,0.108)(-0.9,6,0.136)(-0.8,6,0.168)(-0.7,6,0.2)(-0.6,6,0.233)(-0.5,6,0.265)(-0.4,6,0.293)(-0.3,6,0.317)(-0.2,6,0.335)(-0.1,6,0.346)(0,6,0.35)(0.1,6,0.346)(0.2,6,0.335)(0.3,6,0.317)(0.4,6,0.293)(0.5,6,0.265)(0.6,6,0.233)(0.7,6,0.2)(0.8,6,0.168)(0.9,6,0.136)(1,6,0.108)(1.1,6,0.0823)(1.2,6,0.0608)(1.3,6,0.0434)(1.4,6,0.0298)(1.5,6,0.0197)(1.6,6,0.0124)(1.7,6,0.0075)(1.8,6,0.0043)(1.9,6,0.0023)(2,6,0.0012)
(-2,8,0.004)(-1.9,8,0.0069)(-1.8,8,0.0112)(-1.7,8,0.0173)(-1.6,8,0.0253)(-1.5,8,0.0354)(-1.4,8,0.0473)(-1.3,8,0.061)(-1.2,8,0.0759)(-1.1,8,0.0916)(-1,8,0.108)(-0.9,8,0.123)(-0.8,8,0.138)(-0.7,8,0.152)(-0.6,8,0.164)(-0.5,8,0.175)(-0.4,8,0.184)(-0.3,8,0.191)(-0.2,8,0.196)(-0.1,8,0.199)(0,8,0.2)(0.1,8,0.199)(0.2,8,0.196)(0.3,8,0.191)(0.4,8,0.184)(0.5,8,0.175)(0.6,8,0.164)(0.7,8,0.152)(0.8,8,0.138)(0.9,8,0.123)(1,8,0.108)(1.1,8,0.0916)(1.2,8,0.0759)(1.3,8,0.061)(1.4,8,0.0473)(1.5,8,0.0354)(1.6,8,0.0253)(1.7,8,0.0173)(1.8,8,0.0112)(1.9,8,0.0069)(2,8,0.004)
(-2,10,0.0105)(-1.9,10,0.0158)(-1.8,10,0.0227)(-1.7,10,0.0309)(-1.6,10,0.0403)(-1.5,10,0.0505)(-1.4,10,0.0611)(-1.3,10,0.0716)(-1.2,10,0.0817)(-1.1,10,0.0909)(-1,10,0.0992)(-0.9,10,0.106)(-0.8,10,0.112)(-0.7,10,0.117)(-0.6,10,0.121)(-0.5,10,0.124)(-0.4,10,0.127)(-0.3,10,0.128)(-0.2,10,0.129)(-0.1,10,0.13)(0,10,0.13)(0.1,10,0.13)(0.2,10,0.129)(0.3,10,0.128)(0.4,10,0.127)(0.5,10,0.124)(0.6,10,0.121)(0.7,10,0.117)(0.8,10,0.112)(0.9,10,0.106)(1,10,0.0992)(1.1,10,0.0909)(1.2,10,0.0817)(1.3,10,0.0716)(1.4,10,0.0611)(1.5,10,0.0505)(1.6,10,0.0403)(1.7,10,0.0309)(1.8,10,0.0227)(1.9,10,0.0158)(2,10,0.0105)
(-2,13,0.0168)(-1.9,13,0.0227)(-1.8,13,0.0295)(-1.7,13,0.0369)(-1.6,13,0.0444)(-1.5,13,0.0518)(-1.4,13,0.0589)(-1.3,13,0.0654)(-1.2,13,0.0711)(-1.1,13,0.0759)(-1,13,0.0798)(-0.9,13,0.0829)(-0.8,13,0.0853)(-0.7,13,0.087)(-0.6,13,0.0882)(-0.5,13,0.089)(-0.4,13,0.0895)(-0.3,13,0.0898)(-0.2,13,0.0899)(-0.1,13,0.09)(0,13,0.09)(0.1,13,0.09)(0.2,13,0.0899)(0.3,13,0.0898)(0.4,13,0.0895)(0.5,13,0.089)(0.6,13,0.0882)(0.7,13,0.087)(0.8,13,0.0853)(0.9,13,0.0829)(1,13,0.0798)(1.1,13,0.0759)(1.2,13,0.0711)(1.3,13,0.0654)(1.4,13,0.0589)(1.5,13,0.0518)(1.6,13,0.0444)(1.7,13,0.0369)(1.8,13,0.0295)(1.9,13,0.0227)(2,13,0.0168)
(-2,16,0.0167)(-1.9,16,0.0211)(-1.8,16,0.0259)(-1.7,16,0.0308)(-1.6,16,0.0355)(-1.5,16,0.04)(-1.4,16,0.0441)(-1.3,16,0.0477)(-1.2,16,0.0508)(-1.1,16,0.0534)(-1,16,0.0554)(-0.9,16,0.0569)(-0.8,16,0.0581)(-0.7,16,0.0589)(-0.6,16,0.0594)(-0.5,16,0.0597)(-0.4,16,0.0599)(-0.3,16,0.06)(-0.2,16,0.06)(-0.1,16,0.06)(0,16,0.06)(0.1,16,0.06)(0.2,16,0.06)(0.3,16,0.06)(0.4,16,0.0599)(0.5,16,0.0597)(0.6,16,0.0594)(0.7,16,0.0589)(0.8,16,0.0581)(0.9,16,0.0569)(1,16,0.0554)(1.1,16,0.0534)(1.2,16,0.0508)(1.3,16,0.0477)(1.4,16,0.0441)(1.5,16,0.04)(1.6,16,0.0355)(1.7,16,0.0308)(1.8,16,0.0259)(1.9,16,0.0211)(2,16,0.0167)
(-2,20,0.0134)(-1.9,20,0.016)(-1.8,20,0.0186)(-1.7,20,0.0212)(-1.6,20,0.0236)(-1.5,20,0.0258)(-1.4,20,0.0278)(-1.3,20,0.0295)(-1.2,20,0.0309)(-1.1,20,0.0321)(-1,20,0.033)(-0.9,20,0.0336)(-0.8,20,0.0341)(-0.7,20,0.0345)(-0.6,20,0.0347)(-0.5,20,0.0349)(-0.4,20,0.035)(-0.3,20,0.035)(-0.2,20,0.035)(-0.1,20,0.035)(0,20,0.035)(0.1,20,0.035)(0.2,20,0.035)(0.3,20,0.035)(0.4,20,0.035)(0.5,20,0.0349)(0.6,20,0.0347)(0.7,20,0.0345)(0.8,20,0.0341)(0.9,20,0.0336)(1,20,0.033)(1.1,20,0.0321)(1.2,20,0.0309)(1.3,20,0.0295)(1.4,20,0.0278)(1.5,20,0.0258)(1.6,20,0.0236)(1.7,20,0.0212)(1.8,20,0.0186)(1.9,20,0.016)(2,20,0.0134)
(-2,25,0.0105)(-1.9,25,0.0119)(-1.8,25,0.0131)(-1.7,25,0.0143)(-1.6,25,0.0154)(-1.5,25,0.0163)(-1.4,25,0.0172)(-1.3,25,0.0178)(-1.2,25,0.0184)(-1.1,25,0.0189)(-1,25,0.0192)(-0.9,25,0.0195)(-0.8,25,0.0197)(-0.7,25,0.0198)(-0.6,25,0.0199)(-0.5,25,0.02)(-0.4,25,0.02)(-0.3,25,0.02)(-0.2,25,0.02)(-0.1,25,0.02)(0,25,0.02)(0.1,25,0.02)(0.2,25,0.02)(0.3,25,0.02)(0.4,25,0.02)(0.5,25,0.02)(0.6,25,0.0199)(0.7,25,0.0198)(0.8,25,0.0197)(0.9,25,0.0195)(1,25,0.0192)(1.1,25,0.0189)(1.2,25,0.0184)(1.3,25,0.0178)(1.4,25,0.0172)(1.5,25,0.0163)(1.6,25,0.0154)(1.7,25,0.0143)(1.8,25,0.0131)(1.9,25,0.0119)(2,25,0.0105)
(-2,30,0.008)(-1.9,30,0.0088)(-1.8,30,0.0095)(-1.7,30,0.0101)(-1.6,30,0.0107)(-1.5,30,0.0112)(-1.4,30,0.0116)(-1.3,30,0.0119)(-1.2,30,0.0122)(-1.1,30,0.0124)(-1,30,0.0126)(-0.9,30,0.0127)(-0.8,30,0.0128)(-0.7,30,0.0129)(-0.6,30,0.013)(-0.5,30,0.013)(-0.4,30,0.013)(-0.3,30,0.013)(-0.2,30,0.013)(-0.1,30,0.013)(0,30,0.013)(0.1,30,0.013)(0.2,30,0.013)(0.3,30,0.013)(0.4,30,0.013)(0.5,30,0.013)(0.6,30,0.013)(0.7,30,0.0129)(0.8,30,0.0128)(0.9,30,0.0127)(1,30,0.0126)(1.1,30,0.0124)(1.2,30,0.0122)(1.3,30,0.0119)(1.4,30,0.0116)(1.5,30,0.0112)(1.6,30,0.0107)(1.7,30,0.0101)(1.8,30,0.0095)(1.9,30,0.0088)(2,30,0.008)
};
\end{axis}
\node[font=\labfont, anchor=base] at (172.5bp,-8bp) {One-photon Excitation Region in y-z Plane};
\node[font=\labfont, anchor=base] at (547.8bp,-8bp) {Two-photon Excitation Region in y-z Plane};
\node[font=\fontsize{9.5bp}{11bp}\selectfont, anchor=base] at (172.5bp,-284bp) {(a)};
\node[font=\fontsize{9.5bp}{11bp}\selectfont, anchor=base] at (547.8bp,-284bp) {(b)};
\end{tikzpicture}
\end{document}
